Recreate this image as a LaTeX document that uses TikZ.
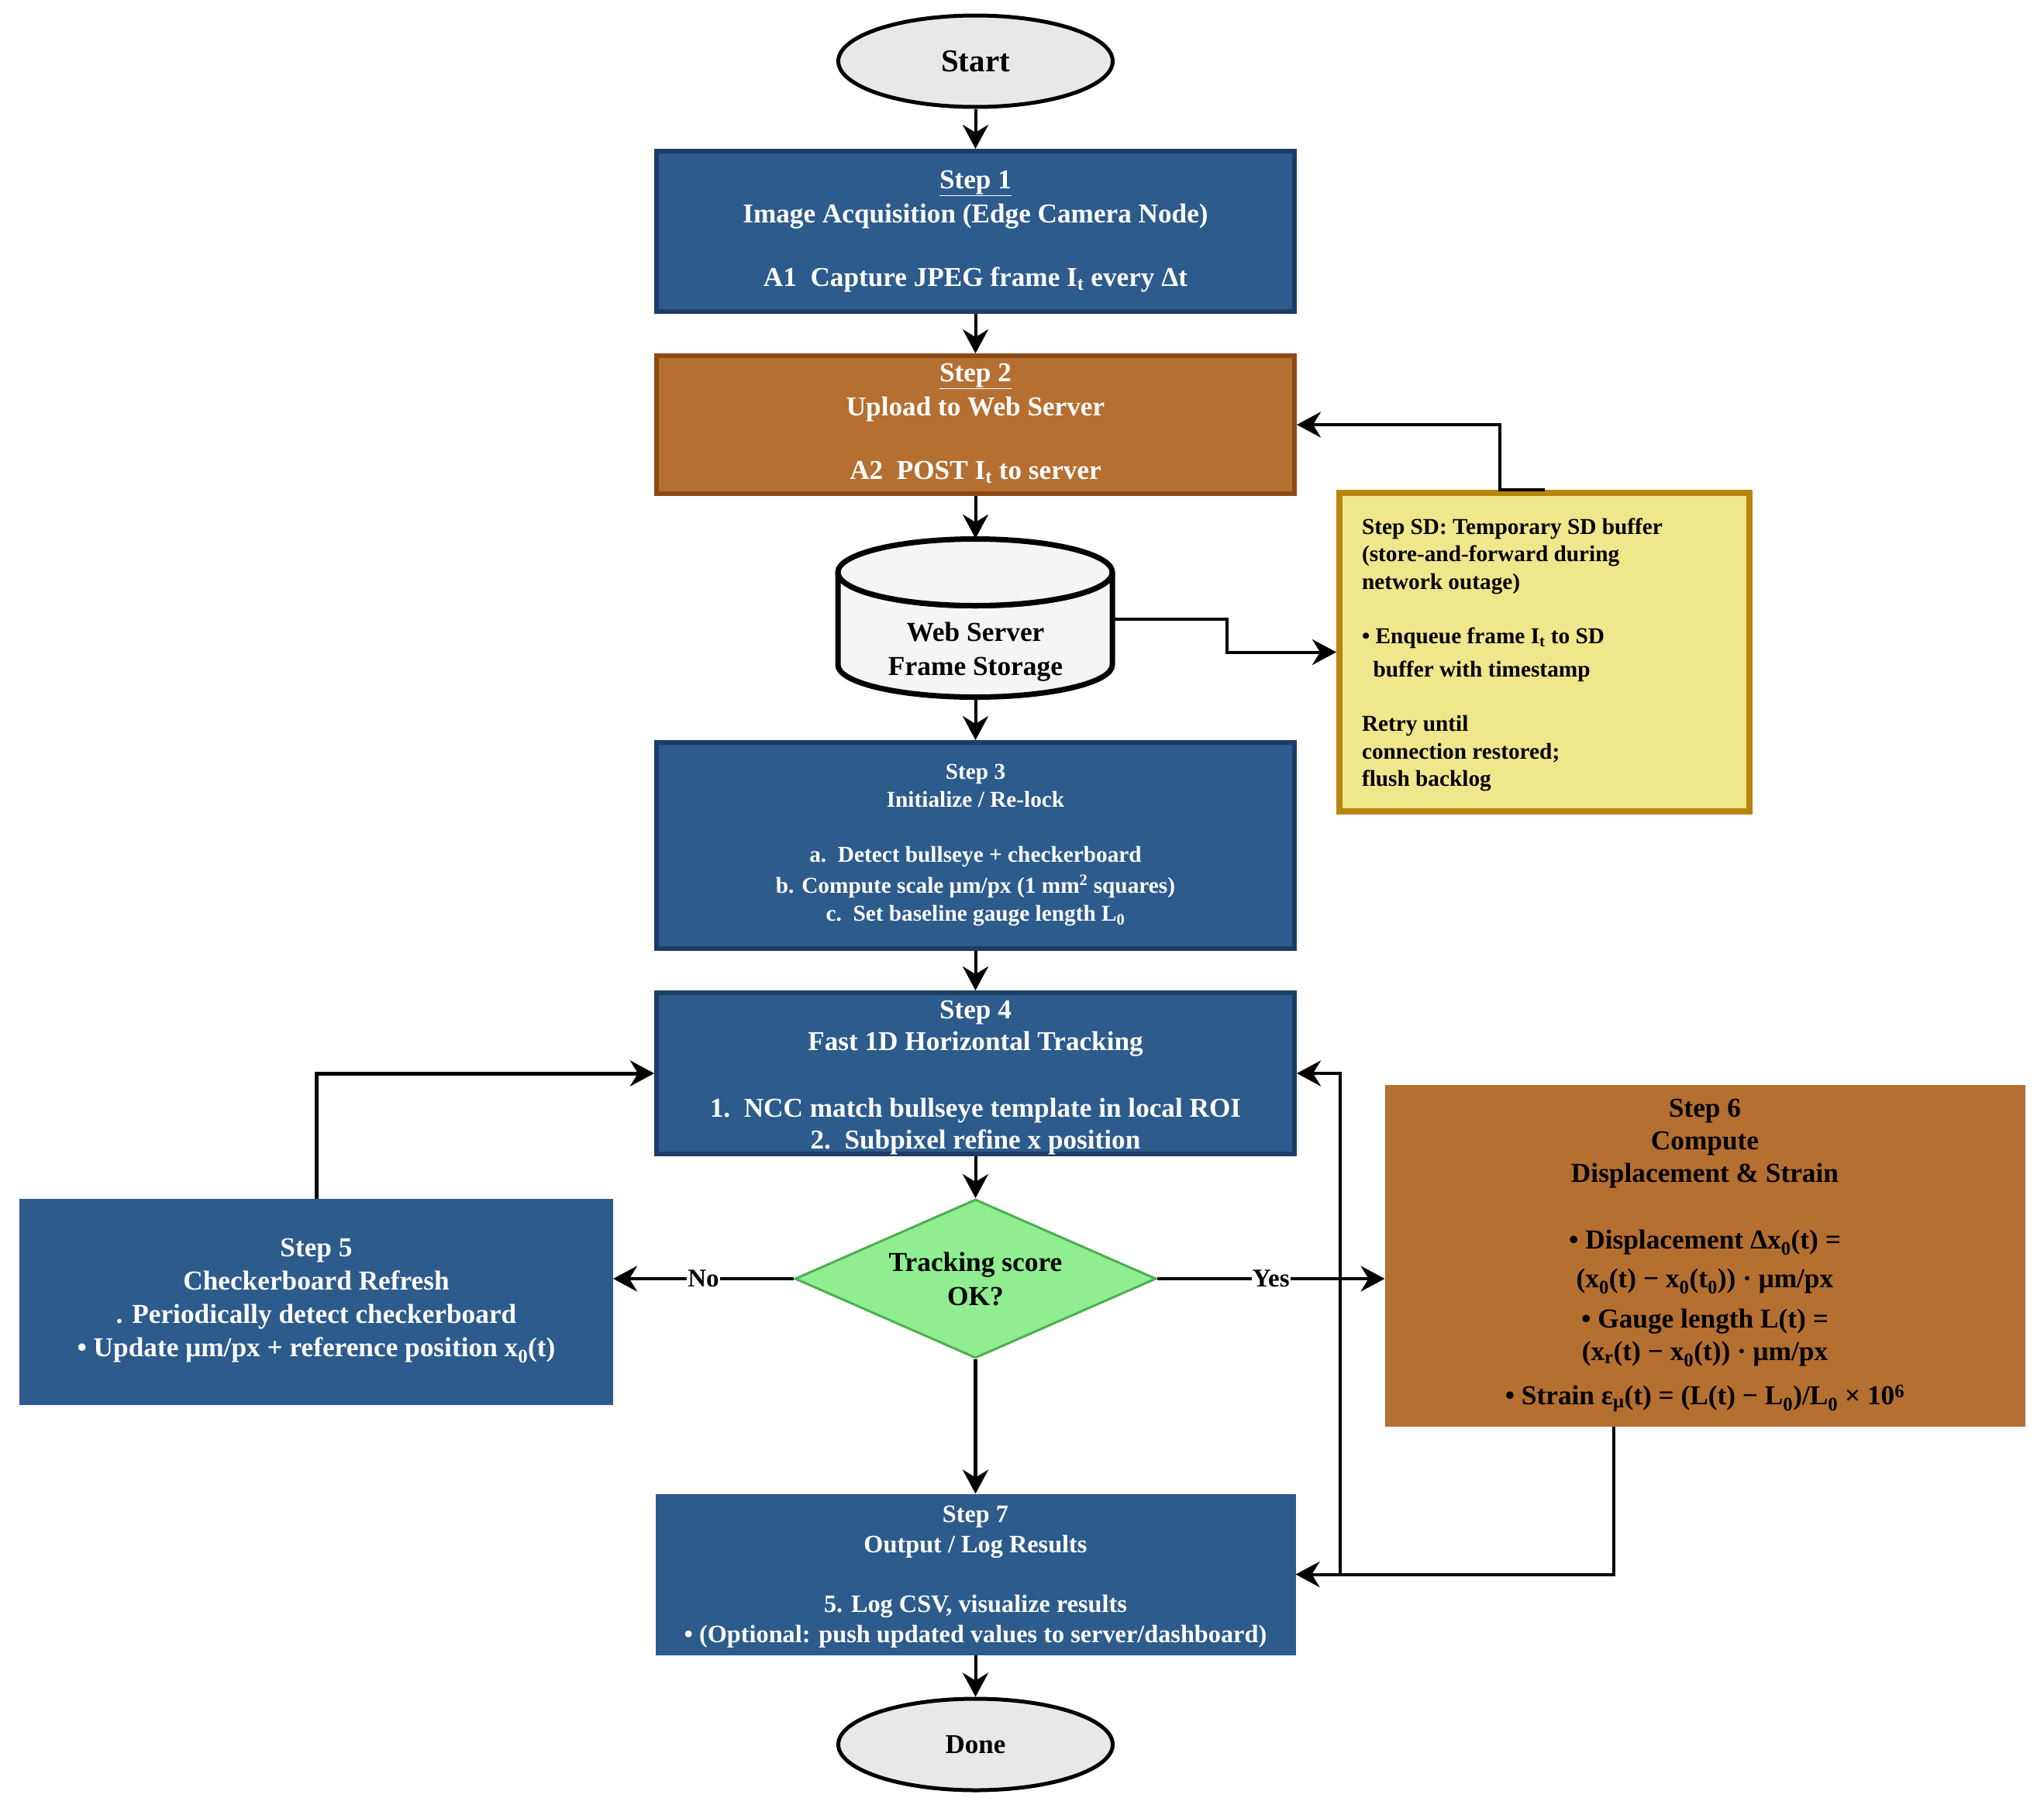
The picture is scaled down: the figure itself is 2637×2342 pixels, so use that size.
\documentclass[tikz,border=0pt]{standalone}
\usepackage{fontspec}
\setmainfont{Liberation Serif}
\usetikzlibrary{arrows.meta,shapes.geometric,calc}
\definecolor{bluefill}{HTML}{2C5B8C}
\definecolor{blueedge}{HTML}{1C3D66}
\definecolor{orangefill}{HTML}{B56F31}
\definecolor{orangeedge}{HTML}{8B4A14}
\definecolor{yellowfill}{HTML}{F0E68C}
\definecolor{yellowedge}{HTML}{B8860B}
\definecolor{greenfill}{HTML}{90EE90}
\definecolor{greenedge}{HTML}{4CAF50}
\definecolor{termfill}{HTML}{E8E8E8}
\definecolor{cylfill}{HTML}{F5F5F5}
% width, height, first baseline from top, font size, baselineskip, alignment, lines
\newcommand{\boxtxt}[7]{\parbox[c][#2pt][t]{#1pt}{\fontsize{#4pt}{#5pt}\selectfont\bfseries\lineskiplimit=-100pt\relax #6\vspace*{\dimexpr #3pt-0.7\dimexpr #5pt\relax\relax}\strut #7}}
\newcommand{\lowsub}[1]{\textsubscript{#1}}
\tikzset{
  flow/.style={draw=black,line width=4pt,-{Stealth[length=31pt,width=33pt,inset=10pt]}},
  boxbase/.style={rectangle,inner sep=0pt,align=center},
  bluebox/.style={boxbase,fill=bluefill,draw=blueedge,line width=6pt,text=white},
  blueplain/.style={boxbase,fill=bluefill,draw=bluefill,line width=1pt,text=white},
  orangebox/.style={boxbase,fill=orangefill,draw=orangeedge,line width=6pt,text=white},
  orangeplain/.style={boxbase,fill=orangefill,draw=orangefill,line width=1pt,text=black},
  notebox/.style={boxbase,fill=yellowfill,draw=yellowedge,line width=8pt,text=black},
  terminal/.style={ellipse,inner sep=0pt,fill=termfill,draw=black,line width=5pt,minimum width=354pt,minimum height=118pt,font=\fontsize{41pt}{48pt}\selectfont\bfseries},
  decision/.style={diamond,aspect=2.27,inner sep=0pt,fill=greenfill,draw=greenedge,line width=3pt,minimum width=466pt,minimum height=205pt,align=center,font=\fontsize{35.4pt}{44pt}\selectfont\bfseries},
  dbtext/.style={rectangle,inner sep=0pt,align=center},
  dbshape/.style={line width=7pt,line join=round,fill=cylfill},
  edgetext/.style={inner sep=1pt,fill=white,font=\fontsize{33pt}{38pt}\selectfont\bfseries},
}
\begin{document}
\begin{tikzpicture}[x=1pt,y=-1pt]
\useasboundingbox (0,0) rectangle (2637,2342);
\coordinate (k1) at (1935,0);
\coordinate (k2) at (1583,0);
\coordinate (k3) at (2082,0);
\coordinate (k4) at (1729,0);

\node[terminal] (start) at (1258.5,79) {Start};

\node[bluebox] (s1) at (1258.5,298.5) {\boxtxt{823}{207}{48}{35.2}{44}{\centering}{\underline{Step 1}\\
Image Acquisition (Edge Camera Node)\\[38pt]
A1\ \ Capture JPEG frame I\lowsub{t} every Δt}};

\node[orangebox] (s2) at (1258.5,548) {\boxtxt{823}{178}{33}{35.2}{44}{\centering}{\underline{Step 2}\\
Upload to Web Server\\[38pt]
A2\ \ POST I\lowsub{t} to server}};

\draw[dbshape] (1081,738.5) arc[start angle=180,end angle=0,x radius=177,y radius=43] -- (1435,858) arc[start angle=0,end angle=180,x radius=177,y radius=41.5] -- cycle;
\draw[dbshape] (1258,738.5) ellipse[x radius=177,y radius=43];
\node[dbtext] (db) at (1258.5,799) {\boxtxt{356}{208}{132}{35.4}{44}{\centering}{Web Server\\Frame Storage}};

\node[bluebox] (s3) at (1258.5,1091) {\boxtxt{823}{266}{47}{29.3}{36}{\centering}{Step 3\\
Initialize / Re-lock\\[35pt]
a.\ \ Detect bullseye + checkerboard\\[4pt]
b. Compute scale μm/px (1 mm\textsuperscript{2} squares)\\
c.\ \ Set baseline gauge length L\lowsub{0}}};

\node[bluebox] (s4) at (1258.5,1385) {\boxtxt{823}{208}{33}{35.2}{41}{\centering}{Step 4\\
Fast 1D Horizontal Tracking\\[45pt]
1.\ \ NCC match bullseye template in local ROI\\
2.\ \ Subpixel refine x position}};

\node[decision] (d) at (1258.5,1650) {Tracking score\\OK?};

\node[blueplain] (s5) at (408,1680) {\boxtxt{765}{265}{74}{35.3}{43}{\centering}{Step 5\\
Checkerboard Refresh\\
. Periodically detect checkerboard\\
• Update μm/px + reference position x\lowsub{0}(t)}};

\node[orangeplain] (s6) at (2199.5,1620.5) {\boxtxt{825}{440}{41}{35.3}{42}{\centering}{Step 6\\
Compute\\
Displacement \& Strain\\[44pt]
• Displacement Δx\lowsub{0}(t) =\\[8pt]
(x\lowsub{0}(t) − x\lowsub{0}(t\lowsub{0})) · μm/px\\[10pt]
• Gauge length L(t) =\\
(x\lowsub{r}(t) − x\lowsub{0}(t)) · μm/px\\[15pt]
• Strain ε\lowsub{μ}(t) = (L(t) − L\lowsub{0})/L\lowsub{0} × 10\textsuperscript{6}}};

\node[blueplain] (s7) at (1258.5,2031.5) {\boxtxt{825}{207}{36}{32.3}{39}{\centering}{Step 7\\
Output / Log Results\\[38pt]
5. Log CSV, visualize results\\
• (Optional: push updated values to server/dashboard)}};

\node[terminal] (done) at (1258.5,2251) {\fontsize{35pt}{42pt}\selectfont Done};

\node[notebox] (sd) at (1992.5,841.5) {\boxtxt{529}{411}{53}{29.3}{35.5}{\raggedright\leftskip=29pt\relax}{Step SD: Temporary SD buffer\\
(store-and-forward during\\
network outage)\\[35pt]
• Enqueue frame I\lowsub{t} to SD\\[7pt]
\ \ buffer with timestamp\\[35pt]
Retry until\\
connection restored;\\
flush backlog}};

% connectors
\draw[flow] (start) -- (s1);
\draw[flow] (s1) -- (s2);
\draw[flow] (s2) -- (db);
\draw[flow] (db) -- (s3);
\draw[flow] (s3) -- (s4);
\draw[flow] (s4) -- (d);
\draw[flow,line width=5pt] (d) -- (s7);
\draw[flow] (s7) -- (done);
\draw[flow] (db.east) -- (k2 |- db.east) -- (k2 |- sd.west) -- (sd.west);
\draw[flow] (sd.north) -- (k1 |- sd.north) -- (k1 |- s2.east) -- (s2.east);
\draw[flow,line width=5pt] (s5.north) |- (s4.west);
\draw[flow] (d.west) -- node[edgetext] (no) {No} (s5.east |- d.west);
\draw[flow] (d.east) -- node[edgetext] (yes) {Yes} (s6.west |- d.east);
\draw[flow] (k3 |- s6.south) |- (s7.east);
\draw[flow] (k4 |- s7.east) -- (k4 |- s4.east) -- (s4.east);
\end{tikzpicture}
\end{document}
